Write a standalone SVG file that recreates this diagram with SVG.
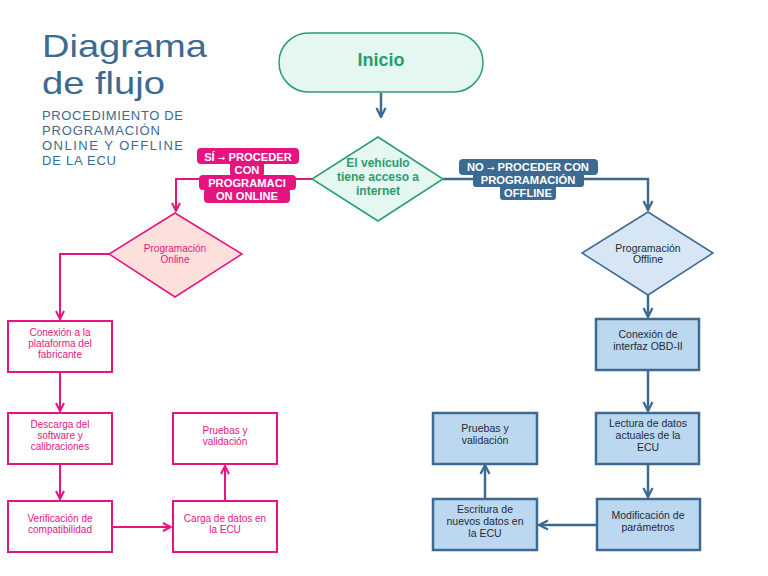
<svg xmlns="http://www.w3.org/2000/svg" width="768" height="576" viewBox="0 0 768 576">
<defs>
<style>
.title{font-family:"Liberation Sans",Arial,sans-serif;fill:#3d6a91}
.sub{font-family:"Liberation Sans",Arial,sans-serif;font-size:13px;fill:#3d6a91}
.pbox{fill:#ffffff;stroke:#e6147f;stroke-width:2}
.bbox{fill:#bcd8f0;stroke:#3d6a91;stroke-width:2.5}
.ptxt{font-family:"Liberation Sans",Arial,sans-serif;font-size:10px;fill:#e6147f;text-anchor:middle}
.btxt{font-family:"Liberation Sans",Arial,sans-serif;font-size:10.5px;fill:#1e2a36;text-anchor:middle}
.pline{fill:none;stroke:#e6147f;stroke-width:2}
.bline{fill:none;stroke:#3d6a91;stroke-width:2.5}
.lbl{font-family:"Liberation Sans",Arial,sans-serif;font-weight:bold;font-size:11.2px;fill:#ffffff;text-anchor:middle}
.arr{font-family:"DejaVu Sans",sans-serif;font-weight:normal;font-size:9px}
</style>
<marker id="ap" viewBox="0 0 10 10" refX="9" refY="5" markerWidth="5" markerHeight="5" orient="auto" markerUnits="strokeWidth">
<path d="M1,1 L9,5 L1,9" fill="none" stroke="#e6147f" stroke-width="2"/>
</marker>
<marker id="ab" viewBox="0 0 10 10" refX="9" refY="5" markerWidth="4.5" markerHeight="4.5" orient="auto" markerUnits="strokeWidth">
<path d="M1,1 L9,5 L1,9" fill="none" stroke="#3d6a91" stroke-width="2"/>
</marker>
</defs>
<rect width="768" height="576" fill="#ffffff"/>

<g id="title">
<text class="title" x="42" y="57" font-size="32" textLength="165" lengthAdjust="spacingAndGlyphs">Diagrama</text>
<text class="title" x="42" y="94" font-size="32" textLength="123" lengthAdjust="spacingAndGlyphs">de flujo</text>
<text class="sub" x="42" y="120" textLength="141" lengthAdjust="spacing">PROCEDIMIENTO DE</text>
<text class="sub" x="42" y="135" textLength="118" lengthAdjust="spacing">PROGRAMACIÓN</text>
<text class="sub" x="42" y="150" textLength="141" lengthAdjust="spacing">ONLINE Y OFFLINE</text>
<text class="sub" x="42" y="165" textLength="74" lengthAdjust="spacing">DE LA ECU</text>
</g>

<g id="connectors">
<path class="bline" d="M381,93 V117" marker-end="url(#ab)"/>
<path class="pline" d="M312,179 H176 V211" marker-end="url(#ap)"/>
<path class="bline" d="M443,179 H648 V210" marker-end="url(#ab)"/>
<path class="pline" d="M109,254 H60 V319" marker-end="url(#ap)"/>
<path class="pline" d="M60,372 V411" marker-end="url(#ap)"/>
<path class="pline" d="M60,464 V499" marker-end="url(#ap)"/>
<path class="pline" d="M112,527 H171" marker-end="url(#ap)"/>
<path class="pline" d="M225,501 V466" marker-end="url(#ap)"/>
<path class="bline" d="M648,295 V317" marker-end="url(#ab)"/>
<path class="bline" d="M648,370 V411" marker-end="url(#ab)"/>
<path class="bline" d="M648,464 V497" marker-end="url(#ab)"/>
<path class="bline" d="M596,525 H539" marker-end="url(#ab)"/>
<path class="bline" d="M485,499 V465" marker-end="url(#ab)"/>
</g>

<g id="label-si">
<rect x="197" y="148" width="102" height="16" rx="4" fill="#e6147f"/>
<rect x="230" y="162" width="34" height="14" rx="3" fill="#e6147f"/>
<rect x="199" y="175" width="97" height="15" rx="4" fill="#e6147f"/>
<rect x="204" y="188" width="86" height="15" rx="4" fill="#e6147f"/>
<text class="lbl" x="248" y="161">SÍ <tspan class="arr">→</tspan> PROCEDER</text>
<text class="lbl" x="247" y="174">CON</text>
<text class="lbl" x="247" y="187">PROGRAMACI</text>
<text class="lbl" x="247" y="200">ON ONLINE</text>
</g>

<g id="label-no">
<rect x="459" y="159" width="139" height="16" rx="4" fill="#3d6a91"/>
<rect x="473" y="173" width="111" height="14" rx="3" fill="#3d6a91"/>
<rect x="500" y="185" width="56" height="15" rx="3" fill="#3d6a91"/>
<text class="lbl" x="528" y="171">NO <tspan class="arr">→</tspan> PROCEDER CON</text>
<text class="lbl" x="528" y="184">PROGRAMACIÓN</text>
<text class="lbl" x="528" y="197">OFFLINE</text>
</g>

<g id="inicio">
<rect x="279" y="33" width="204" height="59" rx="29.5" fill="#e4f7f1" stroke="#2a9d6e" stroke-width="1.5"/>
<text x="381" y="66" font-family="Liberation Sans,Arial,sans-serif" font-weight="bold" font-size="18" fill="#2a9d6e" text-anchor="middle">Inicio</text>
</g>

<g id="decision">
<polygon points="378,137 443,179 378,221 312,179" fill="#e4f7f1" stroke="#2a9d6e" stroke-width="1.5"/>
<g font-family="Liberation Sans,Arial,sans-serif" font-weight="bold" font-size="12" fill="#2a9d6e" text-anchor="middle">
<text x="378" y="167">El vehículo</text>
<text x="378" y="181">tiene acceso a</text>
<text x="378" y="195">internet</text>
</g>
</g>

<g id="prog-online">
<polygon points="175,213 242,254 175,297 109,254" fill="#fde0dc" stroke="#e6147f" stroke-width="1.5"/>
<text class="ptxt" x="175" y="252">Programación</text>
<text class="ptxt" x="175" y="263">Online</text>
</g>

<g id="prog-offline">
<polygon points="648,212 713,253 648,295 582,253" fill="#d6e6f5" stroke="#3d6a91" stroke-width="1.5"/>
<text class="btxt" x="648" y="252" font-size="10">Programación</text>
<text class="btxt" x="648" y="263" font-size="10">Offline</text>
</g>

<g id="on1">
<rect class="pbox" x="8" y="321" width="104" height="51"/>
<text class="ptxt" x="60" y="336">Conexión a la</text>
<text class="ptxt" x="60" y="347">plataforma del</text>
<text class="ptxt" x="60" y="358">fabricante</text>
</g>
<g id="on2">
<rect class="pbox" x="8" y="413" width="104" height="51"/>
<text class="ptxt" x="60" y="428">Descarga del</text>
<text class="ptxt" x="60" y="439">software y</text>
<text class="ptxt" x="60" y="450">calibraciones</text>
</g>
<g id="on3">
<rect class="pbox" x="8" y="501" width="104" height="51"/>
<text class="ptxt" x="60" y="522">Verificación de</text>
<text class="ptxt" x="60" y="533">compatibilidad</text>
</g>
<g id="on4">
<rect class="pbox" x="173" y="501" width="104" height="51"/>
<text class="ptxt" x="225" y="522">Carga de datos en</text>
<text class="ptxt" x="225" y="533">la ECU</text>
</g>
<g id="on5">
<rect class="pbox" x="173" y="413" width="104" height="51"/>
<text class="ptxt" x="225" y="434">Pruebas y</text>
<text class="ptxt" x="225" y="445">validación</text>
</g>

<g id="off1">
<rect class="bbox" x="596" y="319" width="103" height="51"/>
<text class="btxt" x="648" y="338">Conexión de</text>
<text class="btxt" x="648" y="350">interfaz OBD-II</text>
</g>
<g id="off2">
<rect class="bbox" x="596" y="413" width="103" height="51"/>
<text class="btxt" x="648" y="427">Lectura de datos</text>
<text class="btxt" x="648" y="439">actuales de la</text>
<text class="btxt" x="648" y="451">ECU</text>
</g>
<g id="off3">
<rect class="bbox" x="597" y="499" width="103" height="51"/>
<text class="btxt" x="648" y="519">Modificación de</text>
<text class="btxt" x="648" y="531">parámetros</text>
</g>
<g id="off4">
<rect class="bbox" x="433" y="499" width="104" height="51"/>
<text class="btxt" x="485" y="513">Escritura de</text>
<text class="btxt" x="485" y="525">nuevos datos en</text>
<text class="btxt" x="485" y="537">la ECU</text>
</g>
<g id="off5">
<rect class="bbox" x="433" y="413" width="104" height="51"/>
<text class="btxt" x="485" y="432">Pruebas y</text>
<text class="btxt" x="485" y="444">validación</text>
</g>
</svg>
